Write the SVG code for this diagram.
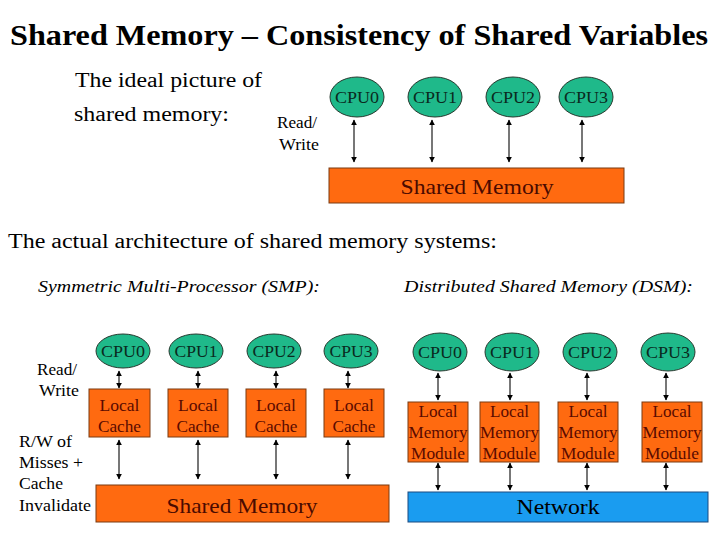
<svg xmlns="http://www.w3.org/2000/svg" width="720" height="540" viewBox="0 0 720 540" font-family="Liberation Serif, serif">
<defs>
<marker id="ah" viewBox="0 0 10 10" refX="9" refY="5" markerWidth="6" markerHeight="6" markerUnits="userSpaceOnUse" orient="auto-start-reverse">
<path d="M0,0 L10,5 L0,10 z" fill="#000"/>
</marker>
</defs>
<style>
text{font-family:"Liberation Serif",serif;fill:#000}
.cpu{fill:#1fb98a;stroke:#2a3a30;stroke-width:1}
.cpuT{font-size:17px;text-anchor:middle;fill:#0a2a1e}
.org{fill:#ff6a10;stroke:#7a3a10;stroke-width:1}
.orgT{font-size:17px;text-anchor:middle;fill:#5a0a00}
.bigT{font-size:22px;text-anchor:middle;fill:#4a0a00}
.lab{font-size:17px}
.conn line{stroke:#555;stroke-width:1.6;marker-start:url(#ah);marker-end:url(#ah)}
</style>
<rect width="720" height="540" fill="#fff"/>
<text x="10" y="45" font-size="29" font-weight="bold" textLength="698" lengthAdjust="spacingAndGlyphs">Shared Memory – Consistency of Shared Variables</text>
<text x="75" y="87" font-size="20" textLength="187" lengthAdjust="spacingAndGlyphs">The ideal picture of</text>
<text x="74" y="121" font-size="20" textLength="155" lengthAdjust="spacingAndGlyphs">shared memory:</text>
<text x="277" y="128" class="lab" textLength="40" lengthAdjust="spacingAndGlyphs">Read/</text>
<text x="279" y="150" class="lab" textLength="40" lengthAdjust="spacingAndGlyphs">Write</text>
<text x="8" y="248" font-size="20" textLength="489" lengthAdjust="spacingAndGlyphs">The actual architecture of shared memory systems:</text>
<text x="38" y="292" font-size="17" font-style="italic" textLength="282" lengthAdjust="spacingAndGlyphs">Symmetric Multi-Processor (SMP):</text>
<text x="404" y="292" font-size="17" font-style="italic" textLength="289" lengthAdjust="spacingAndGlyphs">Distributed Shared Memory (DSM):</text>
<text x="37" y="375" class="lab" textLength="40" lengthAdjust="spacingAndGlyphs">Read/</text>
<text x="39" y="396" class="lab" textLength="40" lengthAdjust="spacingAndGlyphs">Write</text>
<text x="19" y="447" class="lab" textLength="53" lengthAdjust="spacingAndGlyphs">R/W of</text>
<text x="19" y="468" class="lab" textLength="64" lengthAdjust="spacingAndGlyphs">Misses +</text>
<text x="19" y="489" class="lab" textLength="44" lengthAdjust="spacingAndGlyphs">Cache</text>
<text x="19" y="511" class="lab" textLength="72" lengthAdjust="spacingAndGlyphs">Invalidate</text>

<g id="ideal-cpu0"><ellipse class="cpu" cx="357" cy="97" rx="27" ry="20"/><text class="cpuT" x="357" y="103" textLength="44" lengthAdjust="spacingAndGlyphs">CPU0</text></g>
<g id="ideal-cpu1"><ellipse class="cpu" cx="435" cy="97" rx="27" ry="20"/><text class="cpuT" x="435" y="103" textLength="44" lengthAdjust="spacingAndGlyphs">CPU1</text></g>
<g id="ideal-cpu2"><ellipse class="cpu" cx="513" cy="97" rx="27" ry="20"/><text class="cpuT" x="513" y="103" textLength="44" lengthAdjust="spacingAndGlyphs">CPU2</text></g>
<g id="ideal-cpu3"><ellipse class="cpu" cx="586" cy="97" rx="27" ry="20"/><text class="cpuT" x="586" y="103" textLength="44" lengthAdjust="spacingAndGlyphs">CPU3</text></g>
<g id="ideal-mem"><rect class="org" x="329" y="168" width="295" height="35"/><text class="bigT" x="477" y="194" textLength="153" lengthAdjust="spacingAndGlyphs">Shared Memory</text></g>

<g id="smp-cpu0"><ellipse class="cpu" cx="123" cy="351" rx="27" ry="17"/><text class="cpuT" x="123" y="357" textLength="44" lengthAdjust="spacingAndGlyphs">CPU0</text></g>
<g id="smp-cpu1"><ellipse class="cpu" cx="196" cy="351" rx="27" ry="17"/><text class="cpuT" x="196" y="357" textLength="43" lengthAdjust="spacingAndGlyphs">CPU1</text></g>
<g id="smp-cpu2"><ellipse class="cpu" cx="274" cy="351" rx="27" ry="17"/><text class="cpuT" x="274" y="357" textLength="43" lengthAdjust="spacingAndGlyphs">CPU2</text></g>
<g id="smp-cpu3"><ellipse class="cpu" cx="351" cy="351" rx="27" ry="17"/><text class="cpuT" x="351" y="357" textLength="43" lengthAdjust="spacingAndGlyphs">CPU3</text></g>
<g id="smp-cache0"><rect class="org" x="89" y="389" width="61" height="48"/><text class="orgT" x="119.5" y="411" textLength="40" lengthAdjust="spacingAndGlyphs">Local</text><text class="orgT" x="119.5" y="432" textLength="43" lengthAdjust="spacingAndGlyphs">Cache</text></g>
<g id="smp-cache1"><rect class="org" x="168" y="389" width="60" height="48"/><text class="orgT" x="198" y="411" textLength="40" lengthAdjust="spacingAndGlyphs">Local</text><text class="orgT" x="198" y="432" textLength="43" lengthAdjust="spacingAndGlyphs">Cache</text></g>
<g id="smp-cache2"><rect class="org" x="246" y="389" width="60" height="48"/><text class="orgT" x="276" y="411" textLength="40" lengthAdjust="spacingAndGlyphs">Local</text><text class="orgT" x="276" y="432" textLength="43" lengthAdjust="spacingAndGlyphs">Cache</text></g>
<g id="smp-cache3"><rect class="org" x="324" y="389" width="60" height="48"/><text class="orgT" x="354" y="411" textLength="40" lengthAdjust="spacingAndGlyphs">Local</text><text class="orgT" x="354" y="432" textLength="43" lengthAdjust="spacingAndGlyphs">Cache</text></g>
<g id="smp-mem"><rect class="org" x="96" y="485" width="293" height="37"/><text class="bigT" x="242" y="513" textLength="151" lengthAdjust="spacingAndGlyphs">Shared Memory</text></g>

<g id="dsm-cpu0"><ellipse class="cpu" cx="440" cy="352" rx="27" ry="19"/><text class="cpuT" x="440" y="358" textLength="44" lengthAdjust="spacingAndGlyphs">CPU0</text></g>
<g id="dsm-cpu1"><ellipse class="cpu" cx="512" cy="352" rx="27" ry="19"/><text class="cpuT" x="512" y="358" textLength="44" lengthAdjust="spacingAndGlyphs">CPU1</text></g>
<g id="dsm-cpu2"><ellipse class="cpu" cx="590" cy="352" rx="27" ry="19"/><text class="cpuT" x="590" y="358" textLength="44" lengthAdjust="spacingAndGlyphs">CPU2</text></g>
<g id="dsm-cpu3"><ellipse class="cpu" cx="668" cy="352" rx="27" ry="19"/><text class="cpuT" x="668" y="358" textLength="44" lengthAdjust="spacingAndGlyphs">CPU3</text></g>
<g id="dsm-lmm0"><rect class="org" x="408" y="402" width="60" height="60"/><text class="orgT" x="438" y="417" textLength="39" lengthAdjust="spacingAndGlyphs">Local</text><text class="orgT" x="438" y="438" textLength="59" lengthAdjust="spacingAndGlyphs">Memory</text><text class="orgT" x="438" y="459" textLength="54" lengthAdjust="spacingAndGlyphs">Module</text></g>
<g id="dsm-lmm1"><rect class="org" x="480" y="402" width="59" height="60"/><text class="orgT" x="509.5" y="417" textLength="39" lengthAdjust="spacingAndGlyphs">Local</text><text class="orgT" x="509.5" y="438" textLength="59" lengthAdjust="spacingAndGlyphs">Memory</text><text class="orgT" x="509.5" y="459" textLength="54" lengthAdjust="spacingAndGlyphs">Module</text></g>
<g id="dsm-lmm2"><rect class="org" x="558" y="402" width="60" height="60"/><text class="orgT" x="588" y="417" textLength="39" lengthAdjust="spacingAndGlyphs">Local</text><text class="orgT" x="588" y="438" textLength="59" lengthAdjust="spacingAndGlyphs">Memory</text><text class="orgT" x="588" y="459" textLength="54" lengthAdjust="spacingAndGlyphs">Module</text></g>
<g id="dsm-lmm3"><rect class="org" x="642" y="402" width="60" height="60"/><text class="orgT" x="672" y="417" textLength="39" lengthAdjust="spacingAndGlyphs">Local</text><text class="orgT" x="672" y="438" textLength="59" lengthAdjust="spacingAndGlyphs">Memory</text><text class="orgT" x="672" y="459" textLength="54" lengthAdjust="spacingAndGlyphs">Module</text></g>
<g id="dsm-net"><rect x="408" y="492" width="300" height="30" fill="#1a9cf0" stroke="#1a4a80" stroke-width="1"/><text x="558" y="514" font-size="22" text-anchor="middle" fill="#0a1a4a" textLength="83" lengthAdjust="spacingAndGlyphs">Network</text></g>

<g id="connectors" class="conn">
<line x1="354" y1="120" x2="354" y2="162"/>
<line x1="432" y1="120" x2="432" y2="162"/>
<line x1="509" y1="120" x2="509" y2="162"/>
<line x1="582" y1="120" x2="582" y2="162"/>
<line x1="119" y1="371" x2="119" y2="388"/>
<line x1="198" y1="371" x2="198" y2="388"/>
<line x1="276" y1="371" x2="276" y2="388"/>
<line x1="348" y1="371" x2="348" y2="388"/>
<line x1="119" y1="440" x2="119" y2="479"/>
<line x1="198" y1="440" x2="198" y2="479"/>
<line x1="276" y1="440" x2="276" y2="479"/>
<line x1="348" y1="440" x2="348" y2="479"/>
<line x1="438" y1="373" x2="438" y2="400"/>
<line x1="510" y1="373" x2="510" y2="400"/>
<line x1="587" y1="373" x2="587" y2="400"/>
<line x1="666" y1="373" x2="666" y2="400"/>
<line x1="438" y1="463" x2="438" y2="490"/>
<line x1="510" y1="463" x2="510" y2="490"/>
<line x1="587" y1="463" x2="587" y2="490"/>
<line x1="666" y1="463" x2="666" y2="490"/>
</g>
</svg>
